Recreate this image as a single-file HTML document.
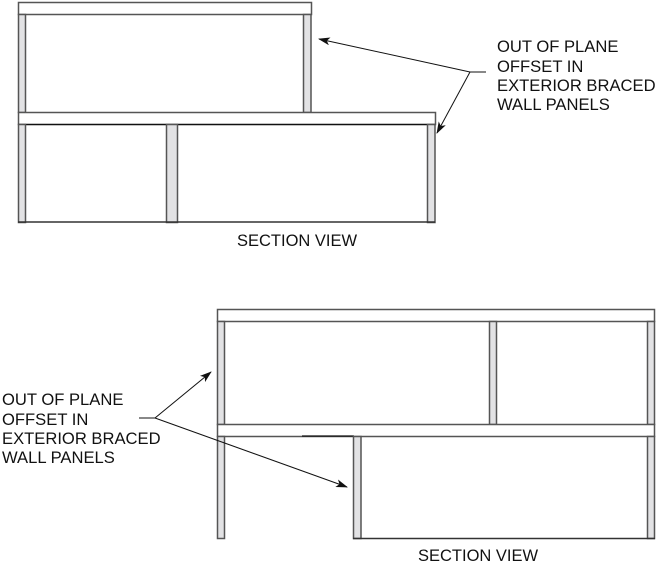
<!DOCTYPE html>
<html><head><style>
html,body{margin:0;padding:0;background:#fff;}
svg{display:block;}
text{font-family:"Liberation Sans",Arial,sans-serif;font-size:16.6px;fill:#111;}
.p{fill:#fff;stroke:#555;stroke-width:1.5;}
.s{fill:#e2e2e4;stroke:#555;stroke-width:1.5;}
.l{stroke:#111;stroke-width:1;fill:none;}
</style></head><body>
<svg width="658" height="567" viewBox="0 0 658 567" xmlns="http://www.w3.org/2000/svg">
<defs><marker id="a" markerWidth="12" markerHeight="8" refX="11" refY="4" orient="auto" markerUnits="userSpaceOnUse"><path d="M0,0 L12,4 L0,8 L3,4 Z" fill="#111"/></marker></defs>
<rect class="p" x="18.5" y="2.5" width="293" height="12"/>
<rect class="s" x="18.5" y="14.5" width="7" height="98"/>
<rect class="s" x="303.5" y="14.5" width="7.5" height="98"/>
<rect class="p" x="18.5" y="112.5" width="417" height="12"/>
<line x1="18" y1="124.5" x2="435" y2="124.5" stroke="#111" stroke-width="1.2"/>
<rect class="s" x="18.5" y="124.5" width="7" height="98"/>
<rect class="s" x="166.5" y="124.5" width="11" height="98"/>
<rect class="s" x="427.5" y="124.5" width="7.5" height="98"/>
<line x1="18" y1="222" x2="435" y2="222" stroke="#333" stroke-width="1.5"/>
<line class="l" x1="470" y1="72" x2="486" y2="72"/>
<line class="l" x1="470" y1="72" x2="319" y2="39" marker-end="url(#a)"/>
<line class="l" x1="470" y1="72" x2="437" y2="133" marker-end="url(#a)"/>
<text x="497" y="52">OUT OF PLANE</text>
<text x="497" y="72">OFFSET IN</text>
<text x="497" y="91">EXTERIOR BRACED</text>
<text x="497" y="110">WALL PANELS</text>
<text x="237" y="246" style="font-size:16.5px">SECTION VIEW</text>
<rect class="p" x="217.5" y="309.5" width="437" height="12"/>
<rect class="s" x="217.5" y="321.5" width="7" height="103"/>
<rect class="s" x="489.5" y="321.5" width="7" height="103"/>
<rect class="s" x="647.5" y="321.5" width="7" height="103"/>
<rect class="p" x="217.5" y="424.5" width="437" height="12"/>
<line x1="302" y1="436" x2="354" y2="436" stroke="#111" stroke-width="1.2"/>
<rect class="s" x="217.5" y="436.5" width="7" height="102"/>
<rect class="s" x="353.5" y="436.5" width="7.5" height="102"/>
<rect class="s" x="647.5" y="436.5" width="7" height="102"/>
<line x1="353" y1="538.5" x2="655" y2="538.5" stroke="#333" stroke-width="1.5"/>
<line class="l" x1="139" y1="418" x2="155" y2="418"/>
<line class="l" x1="155" y1="418" x2="211" y2="372" marker-end="url(#a)"/>
<line class="l" x1="155" y1="418" x2="347" y2="487" marker-end="url(#a)"/>
<text x="2" y="405">OUT OF PLANE</text>
<text x="2" y="425">OFFSET IN</text>
<text x="2" y="444">EXTERIOR BRACED</text>
<text x="2" y="463">WALL PANELS</text>
<text x="418" y="561" style="font-size:16.5px">SECTION VIEW</text>
</svg>
</body></html>
